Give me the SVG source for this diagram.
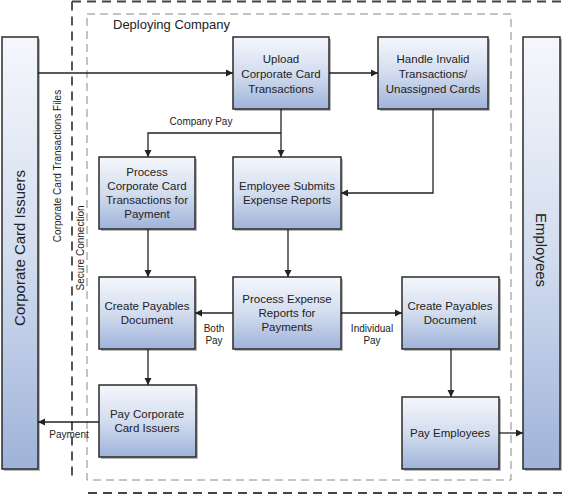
<svg xmlns="http://www.w3.org/2000/svg" width="565" height="495" viewBox="0 0 565 495">
<defs>
<linearGradient id="g" x1="0" y1="0" x2="0" y2="1">
<stop offset="0" stop-color="#f5f7fc"/>
<stop offset="0.5" stop-color="#d3ddef"/>
<stop offset="1" stop-color="#9fb3d9"/>
</linearGradient>
<marker id="a" markerWidth="8" markerHeight="8" refX="7" refY="4" orient="auto" markerUnits="userSpaceOnUse">
<path d="M0,0.5 L7,4 L0,7.5 Z" fill="#222"/>
</marker>
</defs>
<style>
.box{fill:url(#g);stroke:#2b2b2b;stroke-width:1.5}
.sh{fill:#b8b8b8}
.t{font-family:"Liberation Sans",Arial,sans-serif;font-size:11.5px;fill:#222;text-anchor:middle}
.l{font-family:"Liberation Sans",Arial,sans-serif;font-size:10px;fill:#222;text-anchor:middle}
.big{font-family:"Liberation Sans",Arial,sans-serif;font-size:15px;fill:#222;text-anchor:middle}
.c{fill:none;stroke:#222;stroke-width:1.3;marker-end:url(#a)}
.od{fill:none;stroke:#444;stroke-width:1.8;stroke-dasharray:9,6}
.id{fill:none;stroke:#888;stroke-width:1;stroke-dasharray:8,5}
</style>

<g id="boundaries">
<path class="od" d="M72,1.5 H565 M72,1.5 V480 M88,493 H565"/>
<rect class="id" x="87" y="14" width="424" height="466"/>
<text x="113" y="29" font-family="Liberation Sans, Arial, sans-serif" font-size="13" fill="#222">Deploying Company</text>
<text transform="translate(61,166) rotate(-90)" class="l">Corporate Card Transactions Files</text>
<text transform="translate(84,248) rotate(-90)" class="l">Secure Connection</text>
</g>

<g id="issuers">
<rect class="sh" x="4" y="39" width="36" height="432"/>
<rect class="box" x="2" y="37" width="36" height="432"/>
<text transform="translate(25,248) rotate(-90)" class="big">Corporate Card Issuers</text>
</g>

<g id="employees">
<rect class="sh" x="525" y="39" width="37" height="432"/>
<rect class="box" x="523" y="37" width="37" height="432"/>
<text transform="translate(536,250) rotate(90)" class="big">Employees</text>
</g>

<g id="upload">
<rect class="sh" x="235" y="39" width="96" height="72"/>
<rect class="box" x="233" y="37" width="96" height="72"/>
<text class="t" x="281" y="63">Upload</text>
<text class="t" x="281" y="78">Corporate Card</text>
<text class="t" x="281" y="93">Transactions</text>
</g>

<g id="handle">
<rect class="sh" x="380" y="39" width="110" height="72"/>
<rect class="box" x="378" y="37" width="110" height="72"/>
<text class="t" x="433" y="63">Handle Invalid</text>
<text class="t" x="433" y="78">Transactions/</text>
<text class="t" x="433" y="93">Unassigned Cards</text>
</g>

<g id="process-cc">
<rect class="sh" x="101" y="159" width="96" height="72"/>
<rect class="box" x="99" y="157" width="96" height="72"/>
<text class="t" x="147" y="176">Process</text>
<text class="t" x="147" y="190">Corporate Card</text>
<text class="t" x="147" y="204">Transactions for</text>
<text class="t" x="147" y="218">Payment</text>
</g>

<g id="submit">
<rect class="sh" x="235" y="159" width="108" height="72"/>
<rect class="box" x="233" y="157" width="108" height="72"/>
<text class="t" x="287" y="190">Employee Submits</text>
<text class="t" x="287" y="204">Expense Reports</text>
</g>

<g id="payables-left">
<rect class="sh" x="101" y="279" width="96" height="72"/>
<rect class="box" x="99" y="277" width="96" height="72"/>
<text class="t" x="147" y="310">Create Payables</text>
<text class="t" x="147" y="324">Document</text>
</g>

<g id="process-exp">
<rect class="sh" x="235" y="279" width="108" height="72"/>
<rect class="box" x="233" y="277" width="108" height="72"/>
<text class="t" x="287" y="303">Process Expense</text>
<text class="t" x="287" y="317">Reports for</text>
<text class="t" x="287" y="331">Payments</text>
</g>

<g id="payables-right">
<rect class="sh" x="404" y="279" width="97" height="72"/>
<rect class="box" x="402" y="277" width="97" height="72"/>
<text class="t" x="450" y="310">Create Payables</text>
<text class="t" x="450" y="324">Document</text>
</g>

<g id="pay-issuers">
<rect class="sh" x="101" y="387" width="97" height="72"/>
<rect class="box" x="99" y="385" width="97" height="72"/>
<text class="t" x="147" y="418">Pay Corporate</text>
<text class="t" x="147" y="432">Card Issuers</text>
</g>

<g id="pay-employees">
<rect class="sh" x="404" y="399" width="97" height="72"/>
<rect class="box" x="402" y="397" width="97" height="72"/>
<text class="t" x="450" y="437">Pay Employees</text>
</g>

<g id="connectors">
<path class="c" d="M38,73 H233"/>
<path class="c" d="M329,73 H378"/>
<path class="c" d="M281,109 V157"/>
<path class="c" d="M281,133 H148 V157"/>
<path class="c" d="M433,109 V193 H341"/>
<path class="c" d="M148,229 V277"/>
<path class="c" d="M288,229 V277"/>
<path class="c" d="M233,313 H195"/>
<path class="c" d="M341,313 H402"/>
<path class="c" d="M148,349 V385"/>
<path class="c" d="M451,349 V397"/>
<path class="c" d="M99,422 H38"/>
<path class="c" d="M499,433 H523"/>
<text class="l" x="201" y="125">Company Pay</text>
<text class="l" x="214" y="332">Both</text>
<text class="l" x="214" y="344">Pay</text>
<text class="l" x="372" y="332">Individual</text>
<text class="l" x="372" y="344">Pay</text>
<text class="l" x="69" y="438">Payment</text>
</g>
</svg>
